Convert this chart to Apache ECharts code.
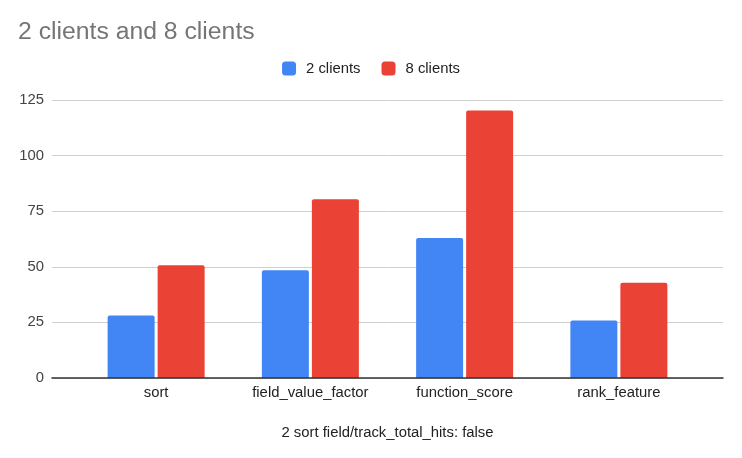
<!DOCTYPE html>
<html>
<head>
<meta charset="utf-8">
<script src="https://cdn.jsdelivr.net/npm/echarts@6/dist/echarts.min.js"></script>
<style>html,body{margin:0;padding:0;background:#fff}#c{width:742px;height:458px}</style>
</head>
<body>
<div id="c"></div>
<script>
const categories = ['sort', 'field_value_factor', 'function_score', 'rank_feature'];
const clients2 = [28.1, 48.4, 63.0, 25.9];
const clients8 = [50.7, 80.4, 120.3, 42.8];
const yTicks = [0, 25, 50, 75, 100, 125];

const chart = echarts.init(document.getElementById('c'), null, {renderer: 'canvas'});
const font = '"Liberation Sans", Arial, sans-serif';
chart.setOption({
  animation: false,
  backgroundColor: '#fff',
  title: {
    text: '2 clients and 8 clients',
    left: 18, top: 20, padding: 0,
    textStyle: {fontFamily: font, fontSize: 24.75, fontWeight: 'normal', color: '#757575'}
  },
  legend: {
    left: 'center', top: 61, padding: 0,
    itemWidth: 14, itemHeight: 14, itemGap: 21,
    icon: 'roundRect',
    textStyle: {fontFamily: font, fontSize: 14.85, color: '#222', padding: [0, 0, 0, 5]},
    data: ['2 clients', '8 clients']
  },
  grid: [
    {left: 52, right: 19, top: 100, bottom: 80},
    {left: 79, right: 46, top: 100, bottom: 80}
  ],
  xAxis: [
    {
      type: 'category', gridIndex: 0, data: categories, z: 10,
      axisLine: {show: true, lineStyle: {color: '#333', width: 1.5}},
      axisTick: {show: false}, axisLabel: {show: false}, splitLine: {show: false}
    },
    {
      type: 'category', gridIndex: 1, data: categories,
      axisLine: {show: false}, axisTick: {show: false},
      axisLabel: {fontFamily: font, fontSize: 14.85, color: '#222', margin: 7},
      name: '2 sort field/track_total_hits: false',
      nameLocation: 'middle', nameGap: 47,
      nameTextStyle: {fontFamily: font, fontSize: 14.85, color: '#222'}
    }
  ],
  yAxis: [
    {
      type: 'value', gridIndex: 0, min: yTicks[0], max: yTicks[yTicks.length - 1], interval: yTicks[1] - yTicks[0],
      axisLine: {show: false}, axisTick: {show: false},
      axisLabel: {fontFamily: font, fontSize: 14.85, color: '#444', margin: 8},
      splitLine: {lineStyle: {color: '#d0d0d0', width: 1}}
    },
    {
      type: 'value', gridIndex: 1, min: yTicks[0], max: yTicks[yTicks.length - 1], interval: yTicks[1] - yTicks[0],
      show: false, splitLine: {show: false}
    }
  ],
  series: [
    {
      name: '2 clients', type: 'bar', xAxisIndex: 1, yAxisIndex: 1,
      data: clients2, barWidth: 47, barGap: '6.4%',
      itemStyle: {color: '#4285F4', borderRadius: [2, 2, 0, 0]}
    },
    {
      name: '8 clients', type: 'bar', xAxisIndex: 1, yAxisIndex: 1,
      data: clients8, barWidth: 47, barGap: '6.4%',
      itemStyle: {color: '#EA4335', borderRadius: [2, 2, 0, 0]}
    }
  ]
});
</script>
</body>
</html>
